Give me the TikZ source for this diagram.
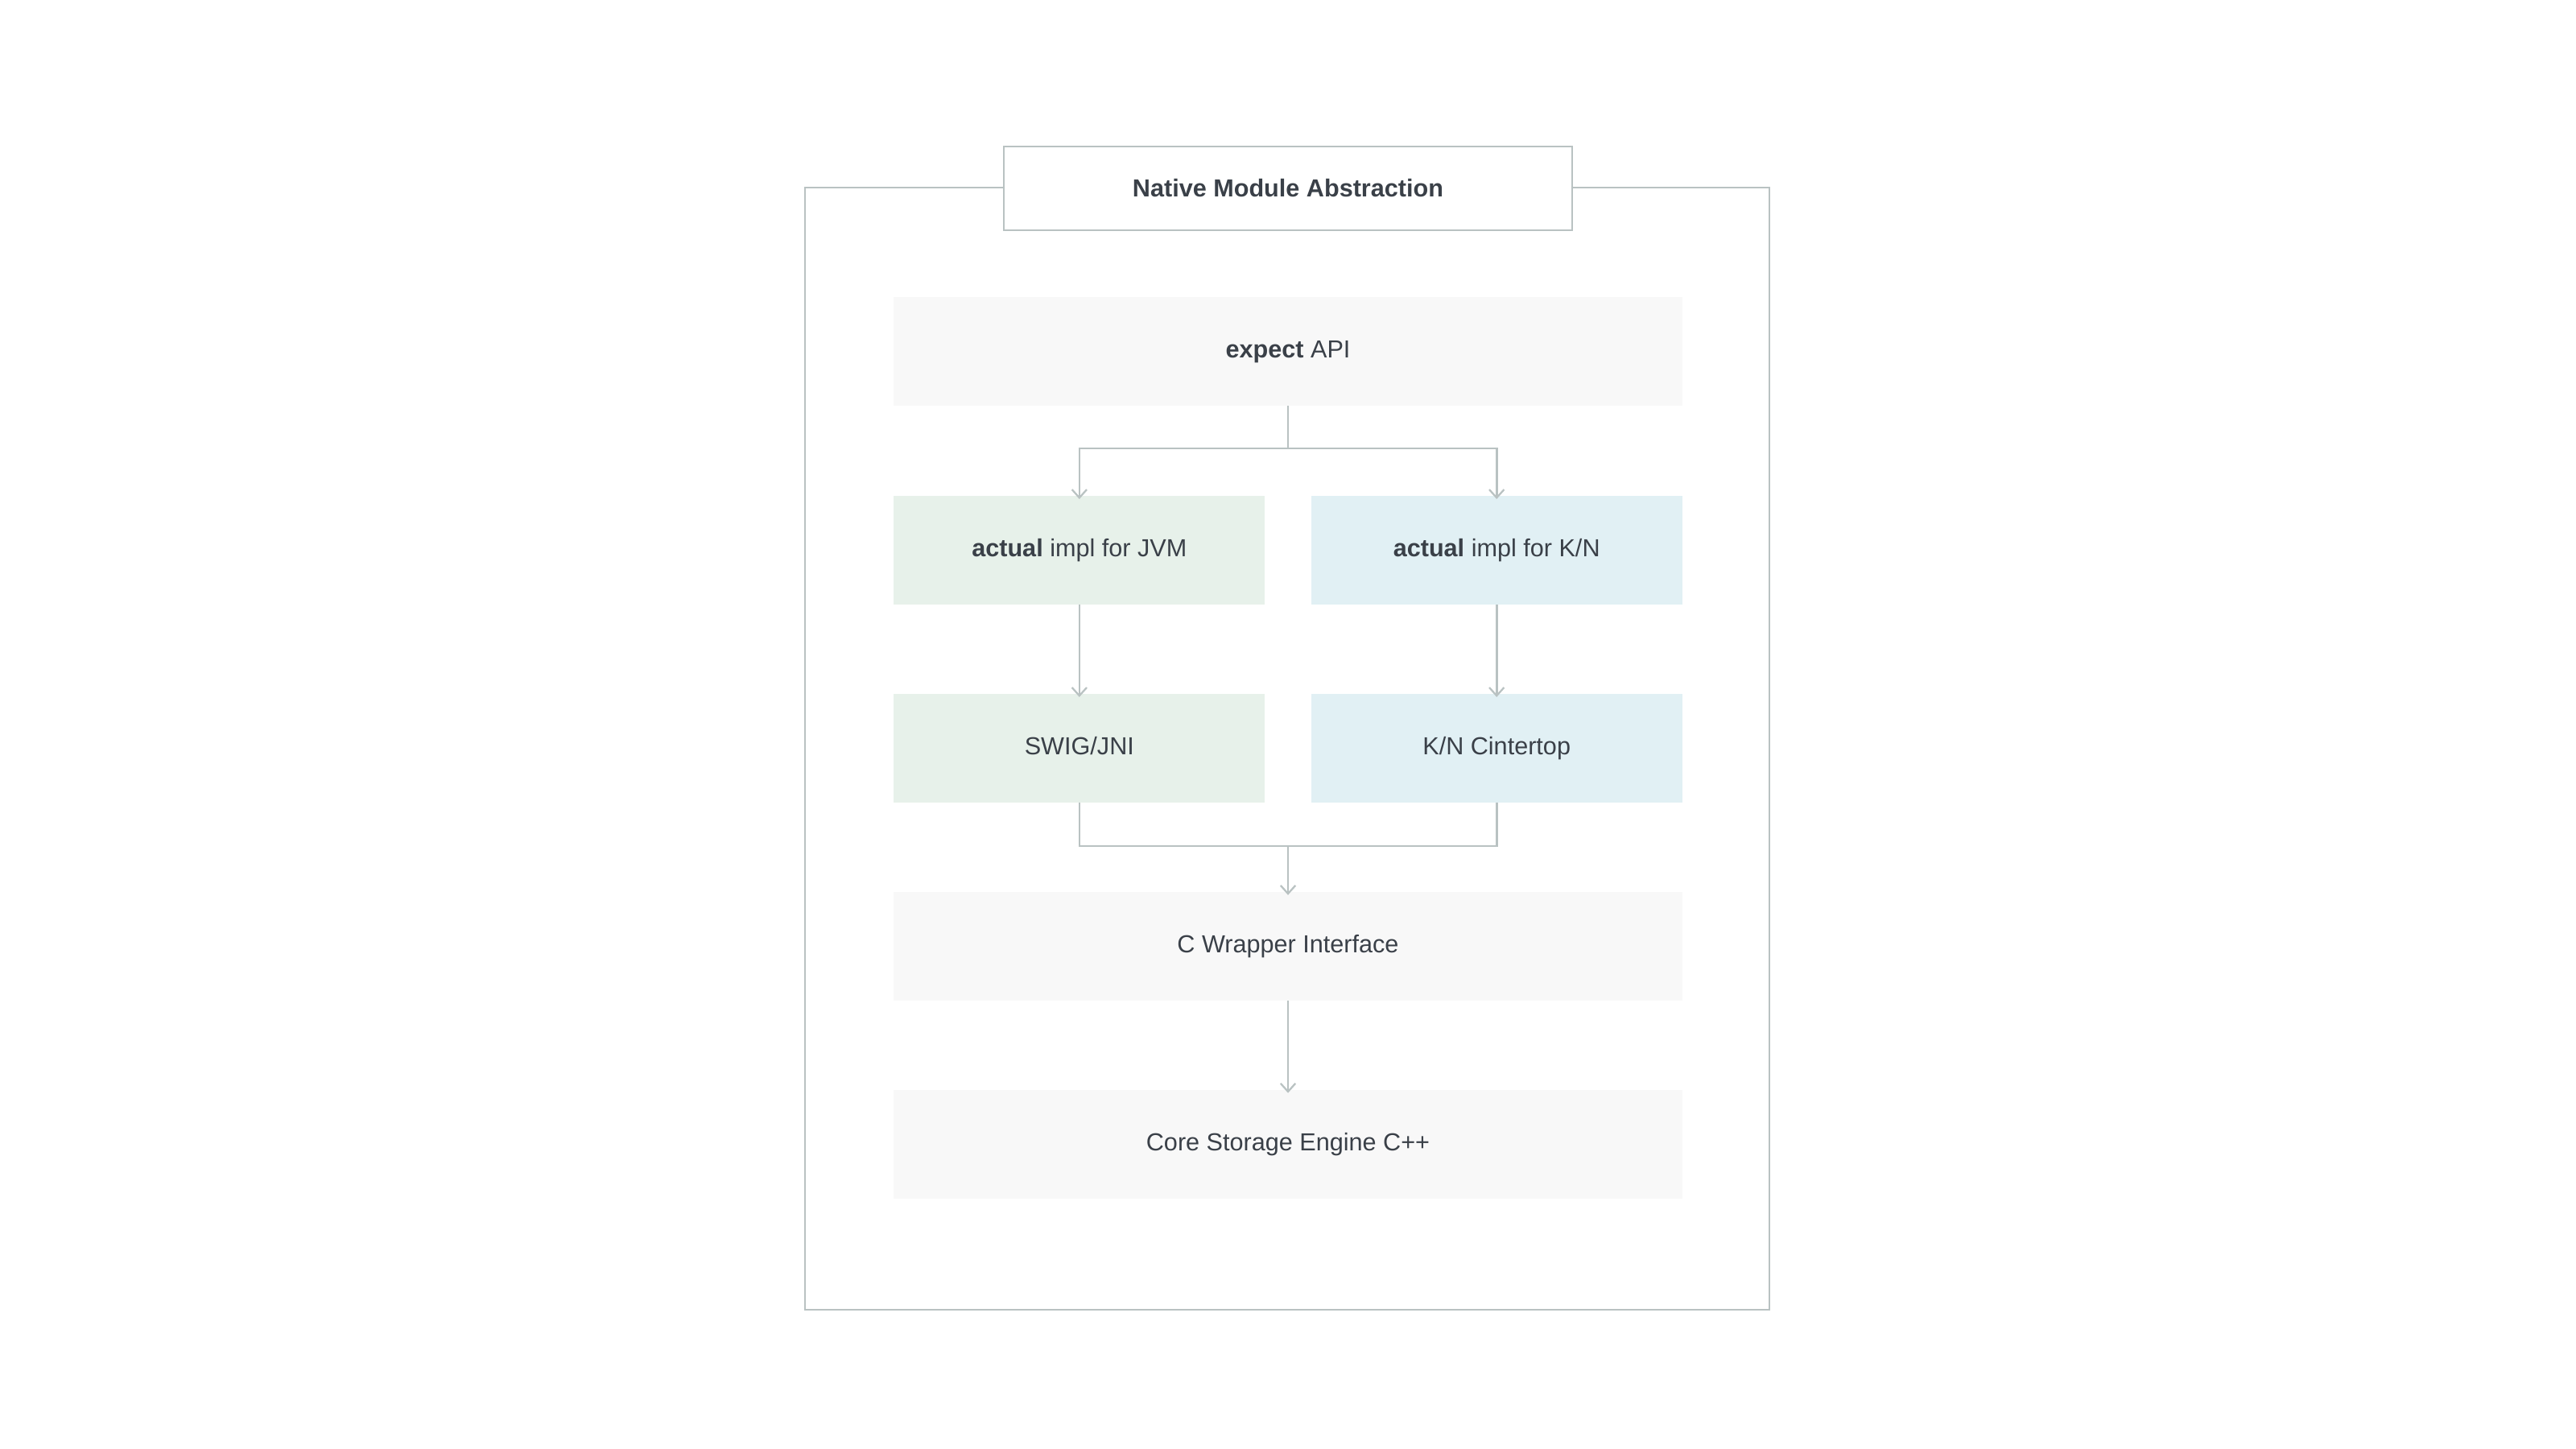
\documentclass[tikz,border=0pt]{standalone}
\usepackage{fontspec}
\setmainfont{Liberation Sans}
\usetikzlibrary{arrows.meta}
\definecolor{ln}{HTML}{B9C2C2}
\definecolor{gr}{HTML}{F8F8F8}
\definecolor{gn}{HTML}{E7F1EA}
\definecolor{bl}{HTML}{E1F0F4}
\definecolor{tx}{HTML}{3A4048}
\tikzset{
  box/.style={fill=#1,draw=none,text=tx,font=\fontsize{15}{17}\selectfont,text height=11pt,text depth=3pt},
  conn/.style={draw=ln,line width=1.3pt,-{Straight Barb[length=5pt,width=9pt,line width=1.1pt]}},
  plain/.style={draw=ln,line width=1.3pt}
}
\begin{document}
\begin{tikzpicture}[x=1pt,y=-1pt]
\useasboundingbox (0,0) rectangle (1568,882);
\fill[white] (0,0) rectangle (1568,882);
\draw[ln,line width=1pt] (490,114) rectangle (1077,797);
\node[draw=ln,line width=1pt,fill=white,text=tx,font=\bfseries\fontsize{15}{17}\selectfont,minimum width=346pt,minimum height=51pt] (title) at (784,114.5) {Native Module Abstraction};
\node[box=gr,minimum width=480pt,minimum height=66pt] (api) at (784,214) {\textbf{expect} API};
\node[box=gn,minimum width=226pt,minimum height=66pt] (jvm) at (657,335) {\textbf{actual} impl for JVM};
\node[box=bl,minimum width=226pt,minimum height=66pt] (kn) at (911,335) {\textbf{actual} impl for K/N};
\node[box=gn,minimum width=226pt,minimum height=66pt] (swig) at (657,455.5) {SWIG/JNI};
\node[box=bl,minimum width=226pt,minimum height=66pt] (cint) at (911,455.5) {K/N Cintertop};
\node[box=gr,minimum width=480pt,minimum height=66pt] (cw) at (784,576) {C Wrapper Interface};
\node[box=gr,minimum width=480pt,minimum height=66pt] (core) at (784,696.5) {Core Storage Engine C++};
\coordinate (s1) at (784,273);
\coordinate (m1) at (784,515);
\draw[plain] (api.south) -- (s1);
\draw[conn] (s1) -| ([yshift=-2pt]jvm.north);
\draw[conn] (s1) -| ([yshift=-2pt]kn.north);
\draw[conn] (jvm.south) -- ([yshift=-2pt]swig.north);
\draw[conn] (kn.south) -- ([yshift=-2pt]cint.north);
\draw[plain] (swig.south) |- (m1);
\draw[plain] (cint.south) |- (m1);
\draw[conn] (m1) -- ([yshift=-2pt]cw.north);
\draw[conn] (cw.south) -- ([yshift=-2pt]core.north);
\end{tikzpicture}
\end{document}
